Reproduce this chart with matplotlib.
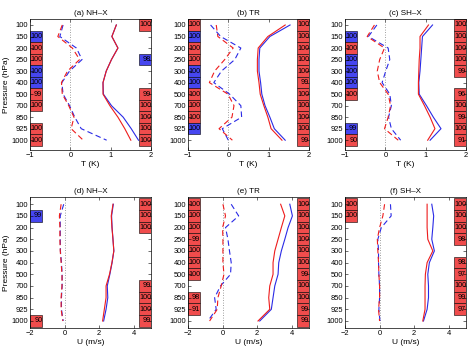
import numpy as np
import matplotlib
matplotlib.use('Agg')
import matplotlib.pyplot as plt
from matplotlib.patches import Rectangle

plt.rcParams['font.family'] = ['Liberation Sans', 'DejaVu Sans']

levels = ['100', '150', '200', '250', '300', '400', '500', '700', '850', '925', '1000']

titles = ['(a) NH\u2013X', '(b) TR', '(c) SH\u2013X', '(d) NH\u2013X', '(e) TR', '(f) SH\u2013X']

# solid lines (red, blue) and dashed lines (red, blue)
a_solid_r = [1.14, 1.03, 1.18, 1.02, 0.89, 0.81, 0.81, 0.98, 1.18, 1.35, 1.50]
a_solid_b = [1.14, 1.03, 1.18, 1.02, 0.89, 0.81, 0.82, 1.02, 1.31, 1.51, 1.69]
a_dash_r = [-0.20, -0.31, 0.05, 0.23, -0.07, -0.22, -0.20, -0.04, 0.09, 0.02, 0.32]
a_dash_b = [-0.18, -0.26, 0.15, 0.29, -0.02, -0.21, -0.18, -0.02, 0.11, 0.27, 0.90]

b_solid_r = [1.41, 0.98, 0.74, 0.72, 0.72, 0.76, 0.79, 0.88, 0.98, 1.06, 1.33]
b_solid_b = [1.53, 1.03, 0.78, 0.76, 0.76, 0.80, 0.83, 0.91, 1.03, 1.14, 1.41]
b_dash_r = [-0.30, -0.26, 0.12, -0.09, -0.34, -0.47, -0.01, 0.14, 0.09, -0.23, 0.10]
b_dash_b = [-0.44, -0.19, 0.31, 0.16, -0.17, -0.36, 0.03, 0.31, 0.33, -0.15, 0.00]

c_solid_r = [1.07, 0.86, 0.86, 0.84, 0.83, 0.82, 0.82, 0.97, 1.11, 1.23, 1.05]
c_solid_b = [1.17, 0.92, 0.90, 0.88, 0.86, 0.83, 0.84, 1.02, 1.19, 1.38, 1.11]
c_dash_r = [-0.27, -0.45, -0.02, -0.14, -0.20, -0.14, 0.07, 0.13, 0.07, -0.02, 0.32]
c_dash_b = [-0.21, -0.42, 0.07, 0.11, 0.01, -0.08, 0.11, 0.15, 0.08, 0.15, 0.38]

d_solid_r = [2.80, 2.70, 2.74, 2.80, 2.85, 2.74, 2.60, 2.40, 2.40, 2.30, 2.20]
d_solid_b = [2.82, 2.72, 2.75, 2.80, 2.85, 2.75, 2.62, 2.47, 2.50, 2.40, 2.26]
d_dash_r = [-0.20, -0.30, -0.27, -0.27, -0.25, -0.20, -0.15, -0.15, -0.20, -0.20, -0.10]
d_dash_b = [-0.05, -0.25, -0.25, -0.25, -0.24, -0.18, -0.14, -0.14, -0.18, -0.18, -0.08]

e_solid_r = [3.36, 3.60, 3.40, 3.21, 3.02, 2.92, 2.92, 2.73, 2.67, 2.73, 2.05]
e_solid_b = [3.89, 4.04, 3.79, 3.60, 3.40, 3.25, 3.21, 3.02, 2.92, 2.82, 2.15]
e_dash_r = [0.02, 0.17, 0.00, 0.02, 0.02, 0.02, 0.08, -0.08, -0.27, -0.31, -0.75]
e_dash_b = [0.50, 0.93, 0.17, 0.31, 0.40, 0.50, 0.46, -0.12, -0.46, -0.37, -0.85]

f_solid_r = [2.75, 2.75, 2.75, 2.79, 3.08, 2.75, 2.65, 2.63, 2.63, 2.63, 2.50]
f_solid_b = [3.02, 3.13, 3.08, 3.02, 3.17, 2.88, 2.79, 2.83, 2.83, 2.75, 2.54]
f_dash_r = [0.29, 0.19, 0.00, -0.13, -0.10, -0.06, -0.04, 0.00, 0.00, -0.06, 0.00]
f_dash_b = [0.63, 0.67, 0.10, -0.10, -0.06, -0.06, -0.04, 0.00, 0.00, -0.04, 0.02]

# significance boxes: >0 red, <0 blue, 0 none
a_left = [0, -100, 100, 100, -100, -100, 99, 100, 0, 100, 100]
a_right = [100, 0, 0, -98, 0, 0, 99, 100, 100, 100, 100]
b_left = [100, -100, 100, 100, -100, -100, 100, 100, 100, -100, 0]
b_right = [100, 100, 100, 100, 100, 99, 100, 100, 100, 100, 99]
c_left = [0, -100, 100, -100, -100, -100, 100, 0, 0, -99, 90]
c_right = [100, 100, 100, 100, 99, 0, 96, 100, 99, 100, 91]
d_left = [0, -99, 0, 0, 0, 0, 0, 0, 0, 0, 90]
d_right = [100, 100, 100, 0, 0, 0, 0, 99, 100, 100, 99]
e_left = [100, 100, 100, 99, 100, 100, 100, 0, 98, 91, 0]
e_right = [100, 100, 100, 100, 100, 100, 99, 100, 100, 99, 99]
f_left = [100, 100, 0, 0, 0, 0, 0, 0, 0, 0, 0]
f_right = [100, 100, 100, 98, 0, 98, 97, 100, 99, 97, 0]

panels = [
    (a_solid_r, a_solid_b, a_dash_r, a_dash_b, a_left, a_right),
    (b_solid_r, b_solid_b, b_dash_r, b_dash_b, b_left, b_right),
    (c_solid_r, c_solid_b, c_dash_r, c_dash_b, c_left, c_right),
    (d_solid_r, d_solid_b, d_dash_r, d_dash_b, d_left, d_right),
    (e_solid_r, e_solid_b, e_dash_r, e_dash_b, e_left, e_right),
    (f_solid_r, f_solid_b, f_dash_r, f_dash_b, f_left, f_right),
]

RED = '#ee1c1c'
BLUE = '#2a2ae6'
BOX_RED = '#f04c4c'
BOX_BLUE = '#4646f0'

W, H = 474, 351
fig = plt.figure(figsize=(W / 100, H / 100), dpi=100)

lefts = [30, 188, 345]
tops = [19, 197]
aw, ah = 121, 131

y = np.arange(len(levels))

for k, (sr, sb, dr, db, sl, srt) in enumerate(panels):
    row, col = divmod(k, 3)
    ax = fig.add_axes([lefts[col] / W, 1 - (tops[row] + ah) / H, aw / W, ah / H])
    if row == 0:
        xlim = (-1, 2)
        xticks = [-1, 0, 1, 2]
        ylim = (10.85, -0.52)
        xlabel = 'T (K)'
    else:
        xlim = (-2, 5)
        xticks = [-2, 0, 2, 4]
        ylim = (10.6, -0.62)
        xlabel = 'U (m/s)'
    bw = 0.1 * (xlim[1] - xlim[0])

    for side, vals in (('l', sl), ('r', srt)):
        x0 = xlim[0] if side == 'l' else xlim[1] - bw
        for i, v in enumerate(vals):
            if v == 0:
                continue
            fc = BOX_RED if v > 0 else BOX_BLUE
            ax.add_patch(Rectangle((x0, i - 0.5), bw, 1.0, facecolor=fc,
                                   edgecolor='black', lw=0.4, zorder=1))
            ax.text(x0 + bw * 1.02, i, str(abs(v)), ha='right', va='center',
                    fontsize=5.2, color='black', zorder=2, clip_on=True)

    ax.axvline(0, color='gray', ls=(0, (1, 2)), lw=0.6, zorder=2)
    ax.plot(sb, y, color=BLUE, lw=0.8, zorder=3)
    ax.plot(sr, y, color=RED, lw=0.8, zorder=4)
    ax.plot(db, y, color=BLUE, lw=0.8, ls=(0, (5, 3)), zorder=3)
    ax.plot(dr, y, color=RED, lw=0.8, ls=(0, (5, 3)), zorder=4)

    ax.set_xlim(xlim)
    ax.set_ylim(ylim)
    ax.set_xticks(xticks)
    ax.set_yticks(y)
    ax.set_yticklabels(levels)
    ax.set_xticklabels(['\u2212' + str(-t) if t < 0 else str(t) for t in xticks])
    ax.tick_params(direction='in', top=True, right=True, length=2, width=0.4,
                   labelsize=5.4, pad=1.5)
    for s in ax.spines.values():
        s.set_linewidth(0.5)
    ax.set_title(titles[k], fontsize=5.8, pad=3)
    ax.set_xlabel(xlabel, fontsize=6, labelpad=1.5)
    if col == 0:
        ax.set_ylabel('Pressure (hPa)', fontsize=6, labelpad=1)

fig.savefig('out.png', dpi=100)
